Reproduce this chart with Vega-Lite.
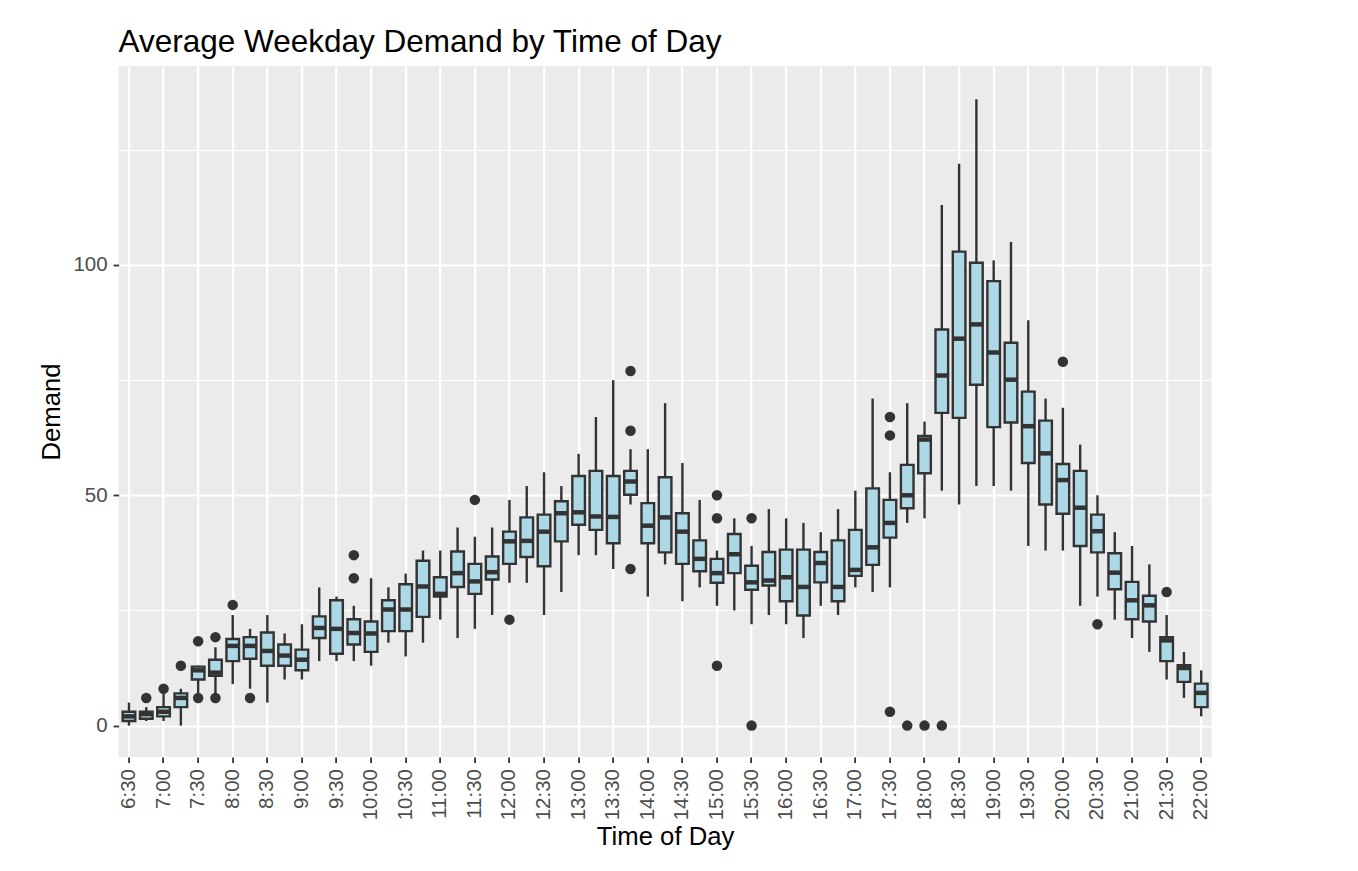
{
  "$schema": "https://vega.github.io/schema/vega-lite/v6.json",
  "width": 1093,
  "height": 691,
  "autosize": {"type": "none"},
  "padding": {"left": 118.6, "top": 66, "right": 146.4, "bottom": 114},
  "background": "white",
  "config": {
    "font": "Liberation Sans",
    "view": {"stroke": null, "fill": "#EBEBEB"}
  },
  "title": {
    "text": "Average Weekday Demand by Time of Day",
    "anchor": "start",
    "frame": "group",
    "fontSize": 31.5,
    "fontWeight": "normal",
    "color": "#000000",
    "offset": 8,
    "font": "Liberation Sans"
  },
  "datasets": {
    "boxes": [
      {"t": "6:30", "lo": 0, "q1": 1, "med": 2, "q3": 3, "hi": 5},
      {"t": "6:45", "lo": 1, "q1": 1.5, "med": 2.5, "q3": 3, "hi": 4},
      {"t": "7:00", "lo": 1, "q1": 2, "med": 3, "q3": 4, "hi": 7},
      {"t": "7:15", "lo": 0, "q1": 4, "med": 6, "q3": 7, "hi": 8},
      {"t": "7:30", "lo": 7, "q1": 10, "med": 12, "q3": 12.8, "hi": 13},
      {"t": "7:45", "lo": 7, "q1": 10.8, "med": 11.5, "q3": 14.3, "hi": 17},
      {"t": "8:00", "lo": 9, "q1": 14, "med": 17.3, "q3": 18.8, "hi": 24},
      {"t": "8:15", "lo": 8, "q1": 14.5, "med": 17.3, "q3": 19.2, "hi": 21},
      {"t": "8:30", "lo": 5, "q1": 13, "med": 16.2, "q3": 20.2, "hi": 24},
      {"t": "8:45", "lo": 10, "q1": 13, "med": 15.2, "q3": 17.6, "hi": 20},
      {"t": "9:00", "lo": 10, "q1": 12, "med": 14.3, "q3": 16.5, "hi": 22},
      {"t": "9:15", "lo": 14, "q1": 19, "med": 21.2, "q3": 23.7, "hi": 30},
      {"t": "9:30", "lo": 14, "q1": 15.6, "med": 21, "q3": 27.2, "hi": 28},
      {"t": "9:45", "lo": 14, "q1": 17.6, "med": 20.1, "q3": 23.1, "hi": 26},
      {"t": "10:00", "lo": 13, "q1": 16, "med": 20, "q3": 22.6, "hi": 32},
      {"t": "10:15", "lo": 18, "q1": 20.5, "med": 25.2, "q3": 27.2, "hi": 30},
      {"t": "10:30", "lo": 15, "q1": 20.5, "med": 25.2, "q3": 30.7, "hi": 33},
      {"t": "10:45", "lo": 18, "q1": 23.6, "med": 30.2, "q3": 35.8, "hi": 38},
      {"t": "11:00", "lo": 23, "q1": 28, "med": 28.6, "q3": 32.2, "hi": 38},
      {"t": "11:15", "lo": 19, "q1": 30.1, "med": 33.1, "q3": 37.8, "hi": 43},
      {"t": "11:30", "lo": 21, "q1": 28.6, "med": 31.3, "q3": 35.1, "hi": 41},
      {"t": "11:45", "lo": 24, "q1": 31.7, "med": 33.3, "q3": 36.7, "hi": 43},
      {"t": "12:00", "lo": 31, "q1": 35.1, "med": 40, "q3": 42.1, "hi": 49},
      {"t": "12:15", "lo": 31, "q1": 36.6, "med": 40.1, "q3": 45.2, "hi": 52},
      {"t": "12:30", "lo": 24, "q1": 34.6, "med": 42.1, "q3": 45.8, "hi": 55},
      {"t": "12:45", "lo": 29, "q1": 40, "med": 46.1, "q3": 48.7, "hi": 52},
      {"t": "13:00", "lo": 37, "q1": 43.6, "med": 46.3, "q3": 54.2, "hi": 59},
      {"t": "13:15", "lo": 37, "q1": 42.5, "med": 45.4, "q3": 55.3, "hi": 67},
      {"t": "13:30", "lo": 34, "q1": 39.6, "med": 45.3, "q3": 54.2, "hi": 75},
      {"t": "13:45", "lo": 48, "q1": 50.1, "med": 53, "q3": 55.3, "hi": 60},
      {"t": "14:00", "lo": 28, "q1": 39.6, "med": 43.4, "q3": 48.3, "hi": 60},
      {"t": "14:15", "lo": 35, "q1": 37.6, "med": 45.2, "q3": 53.9, "hi": 70},
      {"t": "14:30", "lo": 27, "q1": 35.1, "med": 42.1, "q3": 46.1, "hi": 57},
      {"t": "14:45", "lo": 30, "q1": 33.5, "med": 36.2, "q3": 40.2, "hi": 49},
      {"t": "15:00", "lo": 26, "q1": 31, "med": 33.1, "q3": 36.2, "hi": 38},
      {"t": "15:15", "lo": 25, "q1": 33.1, "med": 37.2, "q3": 41.6, "hi": 45},
      {"t": "15:30", "lo": 22, "q1": 29.5, "med": 31.1, "q3": 34.7, "hi": 39},
      {"t": "15:45", "lo": 24, "q1": 30.4, "med": 31.5, "q3": 37.7, "hi": 47},
      {"t": "16:00", "lo": 22, "q1": 27, "med": 32.2, "q3": 38.2, "hi": 45},
      {"t": "16:15", "lo": 19, "q1": 23.9, "med": 30.1, "q3": 38.2, "hi": 44},
      {"t": "16:30", "lo": 26, "q1": 31.1, "med": 35.3, "q3": 37.7, "hi": 42},
      {"t": "16:45", "lo": 24, "q1": 27, "med": 30.1, "q3": 40.2, "hi": 47},
      {"t": "17:00", "lo": 30, "q1": 32.5, "med": 33.8, "q3": 42.5, "hi": 51},
      {"t": "17:15", "lo": 29, "q1": 34.9, "med": 38.7, "q3": 51.5, "hi": 71},
      {"t": "17:30", "lo": 30, "q1": 40.8, "med": 44, "q3": 49, "hi": 55},
      {"t": "17:45", "lo": 44, "q1": 47.2, "med": 50, "q3": 56.6, "hi": 70},
      {"t": "18:00", "lo": 45, "q1": 54.8, "med": 62.1, "q3": 62.9, "hi": 66},
      {"t": "18:15", "lo": 51, "q1": 67.9, "med": 76, "q3": 86, "hi": 113},
      {"t": "18:30", "lo": 48, "q1": 66.8, "med": 84, "q3": 102.9, "hi": 122},
      {"t": "18:45", "lo": 52, "q1": 74, "med": 87.1, "q3": 100.5, "hi": 136},
      {"t": "19:00", "lo": 52, "q1": 64.8, "med": 81, "q3": 96.5, "hi": 101},
      {"t": "19:15", "lo": 51, "q1": 65.8, "med": 75.1, "q3": 83.1, "hi": 105},
      {"t": "19:30", "lo": 39, "q1": 57, "med": 65, "q3": 72.5, "hi": 88},
      {"t": "19:45", "lo": 38, "q1": 48, "med": 59.1, "q3": 66.2, "hi": 71},
      {"t": "20:00", "lo": 38, "q1": 46, "med": 53.3, "q3": 56.8, "hi": 69},
      {"t": "20:15", "lo": 26, "q1": 39, "med": 47.3, "q3": 55.3, "hi": 61},
      {"t": "20:30", "lo": 28, "q1": 37.6, "med": 42.2, "q3": 45.8, "hi": 50},
      {"t": "20:45", "lo": 23, "q1": 29.6, "med": 33.2, "q3": 37.4, "hi": 42},
      {"t": "21:00", "lo": 19, "q1": 23.1, "med": 27.2, "q3": 31.2, "hi": 39},
      {"t": "21:15", "lo": 16, "q1": 22.6, "med": 26.1, "q3": 28.2, "hi": 35},
      {"t": "21:30", "lo": 10, "q1": 14, "med": 18.5, "q3": 19.2, "hi": 24},
      {"t": "21:45", "lo": 6, "q1": 9.5, "med": 12.5, "q3": 13.1, "hi": 16},
      {"t": "22:00", "lo": 2, "q1": 4, "med": 7.1, "q3": 9.1, "hi": 12}
    ],
    "outliers": [
      {"t": "6:45", "v": 6},
      {"t": "7:00", "v": 8},
      {"t": "7:15", "v": 13},
      {"t": "7:30", "v": 18.3},
      {"t": "7:30", "v": 6},
      {"t": "7:45", "v": 19.2},
      {"t": "7:45", "v": 6},
      {"t": "8:00", "v": 26.2},
      {"t": "8:15", "v": 6},
      {"t": "9:45", "v": 37},
      {"t": "9:45", "v": 32},
      {"t": "11:30", "v": 49},
      {"t": "12:00", "v": 23},
      {"t": "13:45", "v": 77},
      {"t": "13:45", "v": 64},
      {"t": "13:45", "v": 34},
      {"t": "15:00", "v": 50},
      {"t": "15:00", "v": 45},
      {"t": "15:00", "v": 13},
      {"t": "15:30", "v": 45},
      {"t": "15:30", "v": 0},
      {"t": "17:30", "v": 67},
      {"t": "17:30", "v": 63},
      {"t": "17:30", "v": 3},
      {"t": "17:45", "v": 0},
      {"t": "18:00", "v": 0},
      {"t": "18:15", "v": 0},
      {"t": "20:00", "v": 79},
      {"t": "20:30", "v": 22},
      {"t": "21:30", "v": 29}
    ]
  },
  "encoding": {
    "x": {
      "field": "t",
      "type": "ordinal",
      "title": "Time of Day",
      "scale": {
        "domain": ["6:30","6:45","7:00","7:15","7:30","7:45","8:00","8:15","8:30","8:45","9:00","9:15","9:30","9:45","10:00","10:15","10:30","10:45","11:00","11:15","11:30","11:45","12:00","12:15","12:30","12:45","13:00","13:15","13:30","13:45","14:00","14:15","14:30","14:45","15:00","15:15","15:30","15:45","16:00","16:15","16:30","16:45","17:00","17:15","17:30","17:45","18:00","18:15","18:30","18:45","19:00","19:15","19:30","19:45","20:00","20:15","20:30","20:45","21:00","21:15","21:30","21:45","22:00"],
        "paddingInner": 0.27,
        "paddingOuter": 0.235
      },
      "axis": {
        "values": ["6:30","7:00","7:30","8:00","8:30","9:00","9:30","10:00","10:30","11:00","11:30","12:00","12:30","13:00","13:30","14:00","14:30","15:00","15:30","16:00","16:30","17:00","17:30","18:00","18:30","19:00","19:30","20:00","20:30","21:00","21:30","22:00"],
        "bandPosition": 0.5,
        "grid": true,
        "gridColor": "#FFFFFF",
        "gridWidth": 2.2,
        "gridOpacity": 1,
        "domain": false,
        "labelAngle": -90,
        "labelFontSize": 20.5,
        "labelColor": "#4D4D4D",
        "labelPadding": 6,
        "labelOverlap": false,
        "labelBound": false,
        "tickColor": "#333333",
        "tickSize": 5.5,
        "tickWidth": 1.8,
        "titleFontSize": 25.7,
        "titleFontWeight": "normal",
        "titleColor": "#000000",
        "titlePadding": 5
      }
    }
  },
  "layer": [
    {
      "data": {"name": "boxes"},
      "mark": {"type": "rule", "color": "#333333", "strokeWidth": 2.4},
      "encoding": {
        "y": {
          "field": "lo",
          "type": "quantitative",
          "title": "Demand",
          "scale": {"domain": [-6.82, 143.2], "nice": false, "zero": false},
          "axis": {
            "values": [0, 25, 50, 75, 100, 125],
            "labelExpr": "datum.value % 50 === 0 ? datum.label : ''",
            "grid": true,
            "gridColor": "#FFFFFF",
            "gridOpacity": 1,
            "gridWidth": {"condition": {"test": "datum.value % 50 === 0", "value": 2.2}, "value": 1.1},
            "tickOpacity": {"condition": {"test": "datum.value % 50 === 0", "value": 1}, "value": 0},
            "domain": false,
            "tickColor": "#333333",
            "tickSize": 5.5,
            "tickWidth": 1.8,
            "labelFontSize": 20.5,
            "labelColor": "#4D4D4D",
            "labelPadding": 6,
            "titleFontSize": 25.7,
            "titleFontWeight": "normal",
            "titleColor": "#000000",
            "titlePadding": 8
          }
        },
        "y2": {"field": "hi"}
      }
    },
    {
      "data": {"name": "boxes"},
      "mark": {"type": "bar", "fill": "#ADD8E6", "stroke": "#333333", "strokeWidth": 2.4},
      "encoding": {
        "y": {"field": "q1", "type": "quantitative", "title": "Demand"},
        "y2": {"field": "q3"}
      }
    },
    {
      "data": {"name": "boxes"},
      "mark": {"type": "tick", "color": "#333333", "size": 12.6, "thickness": 4.5, "orient": "horizontal", "opacity": 1},
      "encoding": {
        "y": {"field": "med", "type": "quantitative", "title": "Demand"}
      }
    },
    {
      "data": {"name": "outliers"},
      "mark": {"type": "point", "filled": true, "color": "#333333", "size": 110, "opacity": 1},
      "encoding": {
        "y": {"field": "v", "type": "quantitative", "title": "Demand"}
      }
    }
  ]
}
